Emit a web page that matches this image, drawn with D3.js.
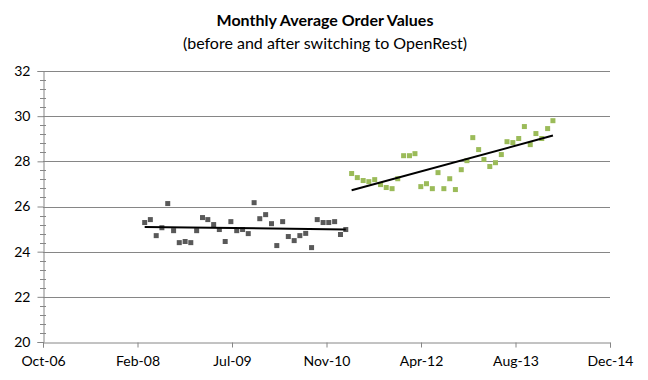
<!DOCTYPE html>
<html lang="en">
<head>
<meta charset="utf-8">
<script src="https://cdn.jsdelivr.net/npm/d3@7"></script>
<title>Monthly Average Order Values</title>
<style>
  body { margin: 0; background: #fff; }
  text { font-family: Lato, "Open Sans", sans-serif; fill: #000; }
</style>
</head>
<body>
<svg id="chart" width="648" height="380"></svg>
<script>
// monthly values, first month of each series
var beforeStart = "2008-04-01";
var afterStart = "2011-04-01";

var beforeValues = [25.29, 25.42, 24.71, 25.06, 26.13, 24.93, 24.40, 24.45, 24.40, 24.93,
  25.51, 25.42, 25.20, 24.98, 24.45, 25.33, 24.93, 24.98, 24.80, 26.17,
  25.46, 25.64, 25.24, 24.27, 25.33, 24.67, 24.49, 24.71, 24.81, 24.18,
  25.42, 25.29, 25.29, 25.33, 24.76, 24.98];

var afterValues = [27.46, 27.28, 27.15, 27.10, 27.19, 26.97, 26.84, 26.79, 27.23, 28.25,
  28.25, 28.34, 26.88, 27.01, 26.79, 27.50, 26.79, 27.23, 26.75, 27.63,
  28.03, 29.05, 28.52, 28.08, 27.77, 27.94, 28.30, 28.87, 28.83, 29.01,
  29.54, 28.74, 29.23, 29.01, 29.45, 29.80];

// x ticks (every 500 days, like the excel date axis)
var xTicks = ["2006-10-11", "2008-02-23", "2009-07-07", "2010-11-19", "2012-04-02", "2013-08-15", "2014-12-28"];
var yTicks = [20, 22, 24, 26, 28, 30, 32];

var svg = d3.select("#chart");
var plotLeft = 43, plotRight = 610, plotTop = 71, plotBottom = 342;

var parse = d3.utcParse("%Y-%m-%d");
var tickDates = xTicks.map(parse);

var x = d3.scaleUtc()
    .domain([tickDates[0], tickDates[tickDates.length - 1]])
    .range([plotLeft, plotRight]);
var y = d3.scaleLinear().domain([20, 32]).range([plotBottom, plotTop]);

function toPoints(start, values) {
  var s = parse(start);
  return values.map(function(v, i) { return { date: d3.utcMonth.offset(s, i), value: v }; });
}
var before = toPoints(beforeStart, beforeValues);
var after = toPoints(afterStart, afterValues);

/* grid lines */
svg.append("g").selectAll("line")
  .data(yTicks.slice(1))
  .enter().append("line")
    .attr("x1", plotLeft).attr("x2", plotRight)
    .attr("y1", function(d) { return Math.round(y(d)) + 0.5; })
    .attr("y2", function(d) { return Math.round(y(d)) + 0.5; })
    .attr("stroke", "#868686");

/* y axis */
var yAxis = svg.append("g")
    .attr("transform", "translate(" + (plotLeft + 0.5) + ",0)")
    .call(d3.axisLeft(y).tickValues(yTicks).tickSize(6).tickPadding(7));
yAxis.select(".domain").attr("stroke", "#868686");
yAxis.selectAll(".tick line").attr("stroke", "#868686");
yAxis.selectAll("text").style("font-size", "14px").attr("fill", "#000");

// minor ticks every 0.4
var minor = d3.range(20, 32.01, 0.4).filter(function(v) { return Math.abs(v / 2 - Math.round(v / 2)) > 0.01; });
svg.append("g").selectAll("line")
  .data(minor)
  .enter().append("line")
    .attr("x1", plotLeft - 3).attr("x2", plotLeft + 3)
    .attr("y1", function(d) { return Math.round(y(d)) + 0.5; })
    .attr("y2", function(d) { return Math.round(y(d)) + 0.5; })
    .attr("stroke", "#868686");

/* x axis */
var xAxis = svg.append("g")
    .attr("transform", "translate(0," + (plotBottom + 0.5) + ")")
    .call(d3.axisBottom(x).tickValues(tickDates).tickSize(5).tickPadding(9)
      .tickFormat(d3.utcFormat("%b-%y")));
xAxis.select(".domain").attr("stroke", "#868686");
xAxis.selectAll(".tick line").attr("stroke", "#868686");
xAxis.selectAll("text").style("font-size", "14px").attr("fill", "#000");

/* markers */
function drawPoints(data, color) {
  svg.append("g").selectAll("rect")
    .data(data)
    .enter().append("rect")
      .attr("x", function(d) { return x(d.date) - 2.5; })
      .attr("y", function(d) { return y(d.value) - 2.5; })
      .attr("width", 5).attr("height", 5)
      .attr("fill", color);
}
drawPoints(before, "#595959");
drawPoints(after, "#9bbb59");

/* linear trendlines */
function trend(data) {
  var xs = data.map(function(d) { return +d.date; });
  var mx = d3.mean(xs), my = d3.mean(data, function(d) { return d.value; });
  var num = d3.sum(data, function(d, i) { return (xs[i] - mx) * (d.value - my); });
  var den = d3.sum(xs, function(v) { return (v - mx) * (v - mx); });
  var b = num / den, a = my - b * mx;
  var ends = [data[0].date, data[data.length - 1].date];
  svg.append("line")
    .attr("x1", x(ends[0])).attr("y1", y(a + b * ends[0]))
    .attr("x2", x(ends[1])).attr("y2", y(a + b * ends[1]))
    .attr("stroke", "#000").attr("stroke-width", 2);
}
trend(before);
trend(after);

/* titles */
svg.append("text")
    .attr("x", 325).attr("y", 26)
    .attr("text-anchor", "middle")
    .style("font-size", "16px").style("font-weight", "bold")
    .text("Monthly Average Order Values");
svg.append("text")
    .attr("x", 325).attr("y", 49)
    .attr("text-anchor", "middle")
    .style("font-size", "16px")
    .text("(before and after switching to OpenRest)");
</script>
</body>
</html>
